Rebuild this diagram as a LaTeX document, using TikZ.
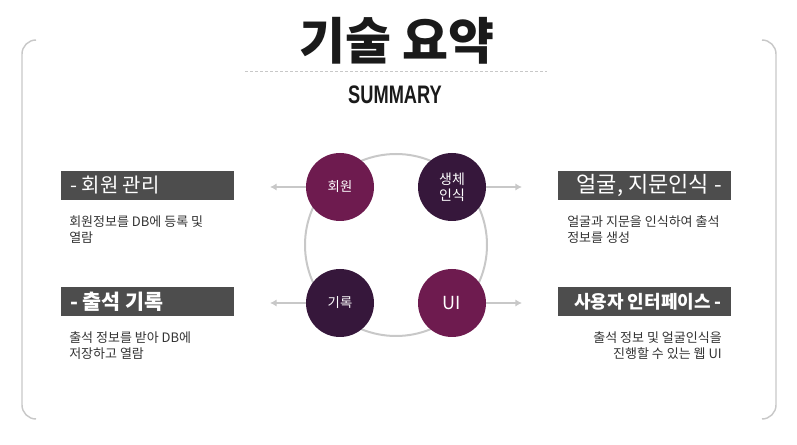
\documentclass[tikz,border=0pt]{standalone}
\usepackage{fontspec}
\setmainfont{Noto Sans CJK KR}
\newfontfamily\cond[FakeStretch=0.72]{Liberation Sans}
\usetikzlibrary{arrows.meta}
\definecolor{boxgray}{HTML}{4D4D4D}
\definecolor{mag}{HTML}{6E1B4F}
\definecolor{deep}{HTML}{36173B}
\definecolor{ringgray}{HTML}{C8C8C8}
\definecolor{desc}{HTML}{333333}
\definecolor{titlec}{HTML}{1A1A1A}
\tikzset{
  px/.style={x=0.75pt,y=-0.75pt},
  bubble/.style={circle,minimum size=51pt,inner sep=0pt,text=white,align=center},
  headbox/.style={fill=boxgray,text=white,minimum width=129.75pt,minimum height=21.75pt,inner sep=0pt},
  desctext/.style={text=desc,inner sep=0pt,font=\fontsize{9.75pt}{12pt}\selectfont},
  arr/.style={draw=ringgray,line width=1.5pt,-{Latex[length=5pt,width=5.5pt]}},
}
\begin{document}
\begin{tikzpicture}[px]
\useasboundingbox (0,0) rectangle (797,445);
% frame brackets
\draw[ringgray,line width=1.1pt,rounded corners=10.5pt] (36,40) -- (22,40) -- (22,419) -- (36,419);
\draw[ringgray,line width=1.1pt,rounded corners=10.5pt] (762,40) -- (776,40) -- (776,419) -- (762,419);
% title
\node[text=titlec,inner sep=0pt,font=\fontsize{37.5pt}{40pt}\selectfont\bfseries] (title) at (397,41) {기술 요약};
\coordinate (dl) at (245,72);
\coordinate (dr) at (547,72);
\draw[ringgray,line width=0.75pt,dash pattern=on 2.25pt off 1.5pt] (dl) -- (dr);
\node[text=titlec,inner sep=0pt,font=\fontsize{19pt}{21pt}\cond\bfseries] (summary) at (395,95) {SUMMARY};
% ring
\draw[ringgray,line width=1.5pt] (396,245) circle[radius=68.25pt];
% bubbles
\node[bubble,fill=mag,font=\fontsize{10pt}{12pt}\selectfont] (c1) at (340,187) {회원};
\node[bubble,fill=deep,font=\fontsize{10.5pt}{12pt}\selectfont] (c2) at (452,187) {생체\\인식};
\node[bubble,fill=deep,font=\fontsize{10pt}{12pt}\selectfont] (c3) at (340,303) {기록};
\node[bubble,fill=mag,font=\fontsize{13.5pt}{15pt}\selectfont] (c4) at (452,303) {UI};
% arrows
\coordinate (a1) at (270,187);
\coordinate (a2) at (522,187);
\coordinate (a3) at (270,303);
\coordinate (a4) at (522,303);
\draw[arr] (c1) -- (a1);
\draw[arr] (c2) -- (a2);
\draw[arr] (c3) -- (a3);
\draw[arr] (c4) -- (a4);
% header boxes
\node[headbox,anchor=north west] (h1) at (61,171) {};
\node[text=white,inner sep=0pt,anchor=west,font=\fontsize{15pt}{16pt}\selectfont] (t1) at (70,185.5) {- 회원 관리};
\node[headbox,anchor=north west] (h3) at (61,287) {};
\node[text=white,inner sep=0pt,anchor=west,font=\fontsize{15.5pt}{17pt}\selectfont\bfseries] (t3) at (70,301.5) {- 출석 기록};
\node[headbox,anchor=north west] (h2) at (558,171) {};
\node[text=white,inner sep=0pt,anchor=east,font=\fontsize{16.5pt}{18pt}\selectfont] (t2) at (722,185.5) {얼굴, 지문인식 -};
\node[headbox,anchor=north west] (h4) at (558,287) {};
\node[text=white,inner sep=0pt,anchor=east,font=\fontsize{13.5pt}{15pt}\selectfont\bfseries] (t4) at (722,301.5) {사용자 인터페이스 -};
% descriptions
\node[desctext,anchor=north west,align=left] (d1) at (69,215) {회원정보를 DB에 등록 및\\열람};
\node[desctext,anchor=north west,align=left] (d3) at (69,331) {출석 정보를 받아 DB에\\저장하고 열람};
\node[desctext,anchor=north west,align=left] (d2) at (567,215) {얼굴과 지문을 인식하여 출석\\정보를 생성};
\node[desctext,anchor=north east,align=right] (d4) at (722,331) {출석 정보 및 얼굴인식을\\진행할 수 있는 웹 UI};
\end{tikzpicture}
\end{document}
